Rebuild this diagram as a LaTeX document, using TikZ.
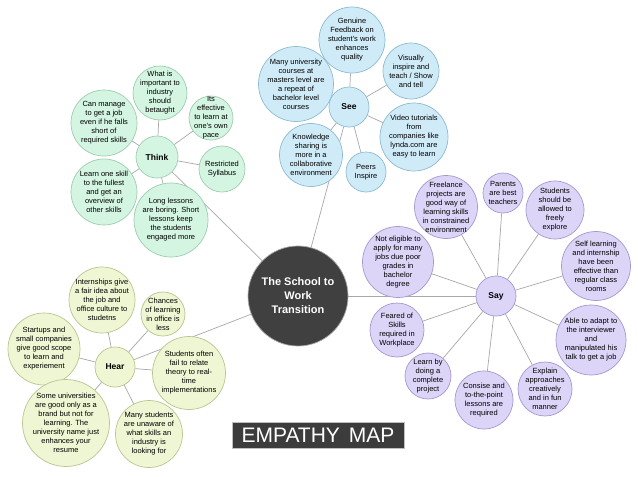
\documentclass[tikz,border=0pt]{standalone}
\usepackage{fontspec}
\setmainfont{Liberation Sans}
\usetikzlibrary{backgrounds}
\definecolor{thinkfill}{HTML}{D4F5E2}
\definecolor{thinkline}{HTML}{9FCDB0}
\definecolor{seefill}{HTML}{D0EBF8}
\definecolor{seeline}{HTML}{8DBBD0}
\definecolor{sayfill}{HTML}{DCD5F7}
\definecolor{sayline}{HTML}{A598CF}
\definecolor{hearfill}{HTML}{EEF6D3}
\definecolor{hearline}{HTML}{BAC58F}
\definecolor{edgegray}{HTML}{A8A8A8}
\definecolor{darkhub}{HTML}{404040}
\definecolor{boxgray}{HTML}{3C3C3C}
\tikzset{
  bub/.style={circle, line width=0.7pt, inner sep=0pt, minimum size=#1},
  txt/.style={align=center, font=\fontsize{7.5}{9}\selectfont, text=black, inner sep=0pt},
  hubtxt/.style={align=center, font=\fontsize{8.5}{10}\selectfont\bfseries, text=black, inner sep=0pt},
  thk/.style={bub=#1, fill=thinkfill, draw=thinkline},
  see/.style={bub=#1, fill=seefill, draw=seeline},
  say/.style={bub=#1, fill=sayfill, draw=sayline},
  hear/.style={bub=#1, fill=hearfill, draw=hearline},
  link/.style={draw=edgegray, line width=0.7pt},
}
\begin{document}
\begin{tikzpicture}[x=1pt, y=-1pt]
\useasboundingbox (0,0) rectangle (638,477);

% central
\node[circle, inner sep=0pt, minimum size=100pt, fill=darkhub, draw=gray!70, line width=0.7pt,
      text=white, align=center, font=\fontsize{11}{14}\selectfont\bfseries] (core) at (298,296)
      {The School to\\Work\\Transition};

% Think
\node[thk=42pt, label={[hubtxt]center:Think}] (think) at (157,157) {};
\node[thk=54pt, label={[txt]center:What is\\important to\\industry\\should\\betaught}] (t1) at (160,93) {};
\node[thk=44pt, label={[txt]center:Its\\effective\\to learn at\\one's own\\pace}] (t2) at (211,118) {};
\node[thk=46pt, label={[txt]center:Restricted\\Syllabus}] (t3) at (222,169) {};
\node[thk=74pt, label={[txt]center:Long lessons\\are boring. Short\\lessons keep\\the students\\engaged more}] (t4) at (171,220) {};
\node[thk=66pt, label={[txt]center:Learn one skill\\to the fullest\\and get an\\overview of\\other skills}] (t5) at (104,192) {};
\node[thk=66pt, label={[txt]center:Can manage\\to get a job\\even if he falls\\short of\\required skills}] (t6) at (104,123) {};

% See
\node[see=40pt, label={[hubtxt]center:See}] (seeh) at (349,107) {};
\node[see=66pt, label={[txt]center:Genuine\\Feedback on\\student's work\\enhances\\quality}] (s1) at (352,40) {};
\node[see=56pt, label={[txt]center:Visually\\inspire and\\teach / Show\\and tell}] (s2) at (411,71) {};
\node[see=68pt, label={[txt]center:Video tutorials\\from\\companies like\\lynda.com are\\easy to learn}] (s3) at (414,137) {};
\node[see=40pt, label={[txt]center:Peers\\Inspire}] (s4) at (366,172) {};
\node[see=63pt, label={[txt]center:Knowledge\\sharing is\\more in a\\collaborative\\environment}] (s5) at (311,155) {};
\node[see=75pt, label={[txt]center:Many university\\courses at\\masters level are\\a repeat of\\bachelor level\\courses}] (s6) at (296,84) {};

% Say
\node[say=40pt, label={[hubtxt]center:Say}] (sayh) at (496,296) {};
\node[say=63pt, label={[txt]center:Freelance\\projects are\\good way of\\learning skills\\in constrained\\environment}] (y1) at (446,207) {};
\node[say=40pt, label={[txt]center:Parents\\are best\\teachers}] (y2) at (503,193) {};
\node[say=58pt, label={[txt]center:Students\\should be\\allowed to\\freely\\explore}] (y3) at (555,210) {};
\node[say=69pt, label={[txt]center:Self learning\\and internship\\have been\\effective than\\regular class\\rooms}] (y4) at (596,266) {};
\node[say=71pt, label={[txt]center:Not eligible to\\apply for many\\jobs due poor\\grades in\\bachelor\\degree}] (y5) at (398,262) {};
\node[say=54pt, label={[txt]center:Feared of\\Skills\\required in\\Workplace}] (y6) at (397,330) {};
\node[say=46pt, label={[txt]center:Learn by\\doing a\\complete\\project}] (y7) at (428,376) {};
\node[say=58pt, label={[txt]center:Consise and\\to-the-point\\lessons are\\required}] (y8) at (484,400) {};
\node[say=54pt, label={[txt]center:Explain\\approaches\\creatively\\and in fun\\manner}] (y9) at (545,389) {};
\node[say=70pt, label={[txt]center:Able to adapt to\\the interviewer\\and\\manipulated his\\talk to get a job}] (y10) at (591,340) {};

% Hear
\node[hear=40pt, label={[hubtxt]center:Hear}] (hearh) at (115,367) {};
\node[hear=66pt, label={[txt]center:Internships give\\a fair idea about\\the job and\\office culture to\\studetns}] (h1) at (102,300) {};
\node[hear=44pt, label={[txt]center:Chances\\of learning\\in office is\\less}] (h2) at (163,314) {};
\node[hear=72pt, label={[txt]center:Startups and\\small companies\\give good scope\\to learn and\\experiement}] (h3) at (44,349) {};
\node[hear=73pt, label={[txt]center:Students often\\fail to relate\\theory to real-\\time\\implementations}] (h4) at (189,373) {};
\node[hear=87pt, label={[txt]center:Some universities\\are good only as a\\brand but not for\\learning. The\\university name just\\enhances your\\resume}] (h5) at (66,423) {};
\node[hear=67pt, label={[txt]center:Many students\\are unaware of\\what skills an\\industry is\\looking for}] (h6) at (149,434) {};

% title
\node[fill=boxgray, draw=gray!50, line width=0.5pt, text=white, inner sep=0pt,
      minimum width=172pt, minimum height=26pt, font=\fontsize{21}{21}\selectfont] (title) at (318,435)
      {EMPATHY\hspace{9pt}MAP};

\begin{scope}[on background layer]
  \fill[white] (0,0) rectangle (638,477);
  \draw[link] (core) -- (think);
  \draw[link] (core) -- (seeh);
  \draw[link] (core) -- (sayh);
  \draw[link] (core) -- (hearh);
  \foreach \c in {t1,t2,t3,t4,t5,t6} \draw[link] (think) -- (\c);
  \foreach \c in {s1,s2,s3,s4,s5,s6} \draw[link] (seeh) -- (\c);
  \foreach \c in {y1,y2,y3,y4,y5,y6,y7,y8,y9,y10} \draw[link] (sayh) -- (\c);
  \foreach \c in {h1,h2,h3,h4,h5,h6} \draw[link] (hearh) -- (\c);
\end{scope}
\end{tikzpicture}
\end{document}
